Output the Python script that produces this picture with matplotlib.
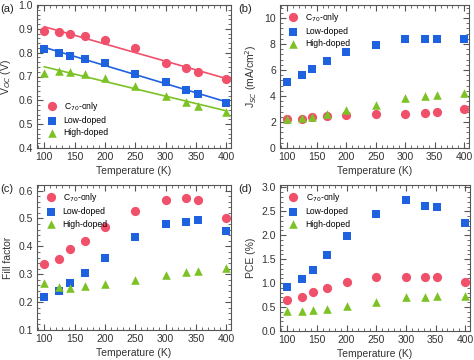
import numpy as np
import matplotlib.pyplot as plt
from matplotlib.ticker import AutoMinorLocator

plt.rcParams['font.family'] = ['Liberation Sans', 'DejaVu Sans']
plt.rcParams['font.size'] = 7

temps = [100, 125, 143, 167, 200, 250, 300, 333, 353, 400]
labels = ["C$_{70}$-only", "Low-doped", "High-doped"]

voc_c70 = [0.890, 0.885, 0.878, 0.870, 0.855, 0.818, 0.758, 0.735, 0.720, 0.688]
voc_low = [0.815, 0.800, 0.788, 0.775, 0.755, 0.710, 0.678, 0.643, 0.627, 0.588]
voc_high = [0.715, 0.725, 0.718, 0.710, 0.695, 0.660, 0.617, 0.595, 0.578, 0.550]

jsc_c70 = [2.20, 2.25, 2.35, 2.45, 2.55, 2.60, 2.65, 2.70, 2.75, 3.00]
jsc_low = [5.10, 5.65, 6.05, 6.70, 7.35, 7.95, 8.40, 8.35, 8.38, 8.40]
jsc_high = [2.20, 2.30, 2.40, 2.60, 2.90, 3.30, 3.85, 4.00, 4.10, 4.20]

ff_c70 = [0.335, 0.355, 0.390, 0.420, 0.468, 0.528, 0.566, 0.572, 0.567, 0.500]
ff_low = [0.220, 0.240, 0.267, 0.305, 0.357, 0.432, 0.480, 0.487, 0.494, 0.456]
ff_high = [0.270, 0.255, 0.250, 0.258, 0.265, 0.280, 0.298, 0.307, 0.312, 0.323]

pce_c70 = [0.65, 0.71, 0.81, 0.90, 1.02, 1.13, 1.13, 1.13, 1.12, 1.03]
pce_low = [0.92, 1.09, 1.28, 1.59, 1.98, 2.44, 2.74, 2.61, 2.59, 2.25]
pce_high = [0.42, 0.42, 0.44, 0.47, 0.53, 0.61, 0.70, 0.72, 0.73, 0.74]

colors = ["#f0506a", "#1f62e0", "#7cc224"]
markers = ["o", "s", "^"]
sizes = [44, 38, 38]

fig = plt.figure(figsize=(4.74, 3.6), dpi=100)
W, H = 474, 360
boxes = [(37, 5, 231, 148), (280, 5, 469, 148), (37, 185, 231, 330), (280, 185, 470, 331)]
axes = [fig.add_axes([l / W, 1 - b / H, (r - l) / W, (b - t) / H]) for l, t, r, b in boxes]

panels = [
    (axes[0], [voc_c70, voc_low, voc_high], "V$_{OC}$ (V)", (0.4, 1.0), np.arange(0.4, 1.01, 0.1), "(a)"),
    (axes[1], [jsc_c70, jsc_low, jsc_high], "J$_{SC}$ (mA/cm$^2$)", (0, 11), np.arange(0, 11, 2), "(b)"),
    (axes[2], [ff_c70, ff_low, ff_high], "Fill factor", (0.1, 0.62), np.arange(0.1, 0.61, 0.1), "(c)"),
    (axes[3], [pce_c70, pce_low, pce_high], "PCE (%)", (0, 3.05), np.arange(0, 3.01, 0.5), "(d)"),
]

for ax, series, ylabel, ylim, yticks, tag in panels:
    for vals, lab, c, m, s in zip(series, labels, colors, markers, sizes):
        ax.scatter(temps, vals, color=c, marker=m, s=s, label=lab, linewidths=0, zorder=3)
    ax.set_xlim(88, 408)
    ax.set_ylim(*ylim)
    ax.set_xticks([100, 150, 200, 250, 300, 350, 400])
    ax.set_yticks(yticks)
    ax.xaxis.set_minor_locator(AutoMinorLocator(5))
    ax.yaxis.set_minor_locator(AutoMinorLocator(5))
    ax.tick_params(which="both", direction="in", top=True, right=True, colors="#555555",
                   labelcolor="#333333", labelsize=7.5, pad=3)
    ax.tick_params(which="major", length=4)
    ax.tick_params(which="minor", length=2)
    for sp in ax.spines.values():
        sp.set_color("#555555")
    ax.set_xlabel("Temperature (K)", color="#333333", fontsize=7.5, labelpad=3)
    ax.set_ylabel(ylabel, color="#333333", fontsize=7.5, labelpad=4)
    pos = ax.get_position()
    fig.text(0.0 if pos.x0 < 0.3 else 0.503, pos.y1 + 0.002, tag, fontsize=8, va="top", ha="left", color="#222222")

for ax in (axes[0], axes[2], axes[3]):
    ax.yaxis.set_major_formatter(plt.FormatStrFormatter("%.1f"))

# linear fits for Voc
for vals, c in zip([voc_c70, voc_low, voc_high], colors):
    k, b0 = np.polyfit(temps, vals, 1)
    xs = np.array([100, 400])
    axes[0].plot(xs, k * xs + b0, color=c, lw=1.2, zorder=2)

leg_kw = dict(frameon=False, fontsize=6.2, handlelength=1.0, handletextpad=0.9,
              borderaxespad=0.0, labelspacing=0.4, markerscale=1.0)
axes[0].legend(loc="lower left", bbox_to_anchor=(0.035, 0.05), **leg_kw)
for ax in axes[1:]:
    ax.legend(loc="upper left", bbox_to_anchor=(0.03, 0.985), **leg_kw)

fig.savefig("out.png", dpi=100)
